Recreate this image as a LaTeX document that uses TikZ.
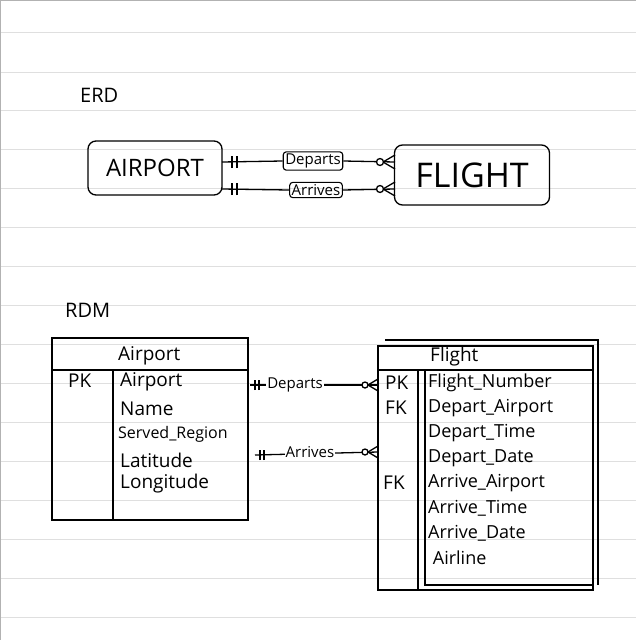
\documentclass[tikz,border=0pt]{standalone}
\usepackage{fontspec}
\setmainfont{Open Sans}
\begin{document}
\begin{tikzpicture}[x=1pt,y=-1pt,
  ink/.style={line width=1.3pt,black},
  paper/.style={gray!25,line width=0.5pt},
  lbl/.style={font=\fontsize{19}{19}\selectfont,inner sep=0pt,anchor=west},
  rel/.style={draw,rounded corners=3pt,line width=1.1pt,font=\fontsize{15}{15}\selectfont,inner sep=2pt}]
\useasboundingbox (0,0) rectangle (636,640);
\fill[white] (0,0) rectangle (636,640);
\foreach \y in {32,72,110,149,188,227,266,305,344,383,422,461,500,539,578,617}
  \draw[paper] (0,\y) -- (636,\y);
\draw[gray!60,line width=1pt] (0,0) rectangle (636,640);
% ERD
\node[lbl,font=\fontsize{20}{20}\selectfont] (erd) at (80,95) {ERD};
\node[draw,ink,rounded corners=8pt,minimum width=134pt,minimum height=54pt,font=\fontsize{24}{24}\selectfont] (ap) at (155,168) {AIRPORT};
\node[draw,ink,rounded corners=8pt,minimum width=155pt,minimum height=60pt,font=\fontsize{34}{34}\selectfont] (fl) at (472,175) {FLIGHT};
\coordinate (a1) at (222,162); \coordinate (b1) at (395,162);
\coordinate (a2) at (222,189); \coordinate (b2) at (395,189);
\node[rel] (dep) at (313,161) {Departs};
\node[rel] (arr) at (316,190) {Arrives};
\draw[ink] (a1) -- (dep.west); \draw[ink] (dep.east) -- (b1);
\draw[ink] (a2) -- (arr.west); \draw[ink] (arr.east) -- (b2);
\foreach \p in {a1,a2}{
  \draw[ink] ([xshift=10pt,yshift=-6pt]\p) -- ([xshift=10pt,yshift=6pt]\p);
  \draw[ink] ([xshift=15pt,yshift=-6pt]\p) -- ([xshift=15pt,yshift=6pt]\p);}
\foreach \p in {b1,b2}{
  \draw[ink] ([xshift=-12pt]\p) -- ([yshift=-7pt]\p);
  \draw[ink] ([xshift=-12pt]\p) -- ([yshift=7pt]\p);
  \draw[ink,fill=white] ([xshift=-15pt]\p) circle (3.5pt);}
% RDM
\node[lbl,font=\fontsize{20}{20}\selectfont] (rdm) at (65,310) {RDM};
\draw[ink] (52,338) rectangle (248,520);
\draw[ink] (52,370) -- (248,370);
\draw[ink] (113,370) -- (113,520);
\node[lbl] (aph) at (118,356) {Airport};
\node[lbl] (apk) at (68,381) {PK};
\foreach \t/\y [count=\i] in {Airport/382,Name/409,Latitude/460,Longitude/484}
  \node[lbl] (aa\i) at (120,\y) {\t};
\node[lbl,font=\fontsize{16}{16}\selectfont] (aa5) at (118,434) {Served\_Region};
% Flight table
\draw[ink] (385,340) -- (598,340) -- (598,585);
\draw[ink] (378,346) rectangle (593,590);
\draw[ink] (378,370) -- (593,370);
\draw[ink] (418,370) -- (418,590);
\draw[ink] (425,370) -- (425,585) -- (593,585);
\node[lbl] (flh) at (430,357) {Flight};
\foreach \t [count=\i] in {Flight\_Number,Depart\_Airport,Depart\_Time,Depart\_Date,Arrive\_Airport,Arrive\_Time,Arrive\_Date,{\ Airline}}
  \node[lbl,font=\fontsize{18}{18}\selectfont] (fa\i) at (428,358+\i*25) {\t};
\node[lbl] (fpk) at (385,383) {PK};
\node[lbl] (ffk1) at (385,408) {FK};
\node[lbl] (ffk2) at (383,483) {FK};
% RDM connectors
\coordinate (c1) at (250,385); \coordinate (d1) at (378,385);
\coordinate (c2) at (255,455); \coordinate (d2) at (378,452);
\draw[ink] (c1) -- (d1); \draw[ink] (c2) -- (d2);
\node[fill=white,inner sep=1pt,font=\fontsize{15}{15}\selectfont] (ldep) at (295,385) {Departs};
\node[fill=white,inner sep=1pt,font=\fontsize{15}{15}\selectfont] (larr) at (310,452) {Arrives};
\foreach \p in {c1,c2}{
  \draw[ink] ([xshift=5pt,yshift=-5pt]\p) -- ([xshift=5pt,yshift=5pt]\p);
  \draw[ink] ([xshift=9pt,yshift=-5pt]\p) -- ([xshift=9pt,yshift=5pt]\p);}
\foreach \p in {d1,d2}{
  \draw[ink] ([xshift=-10pt]\p) -- ([yshift=-6pt]\p);
  \draw[ink] ([xshift=-10pt]\p) -- ([yshift=6pt]\p);
  \draw[ink,fill=white] ([xshift=-13pt]\p) circle (3pt);}
\end{tikzpicture}
\end{document}
